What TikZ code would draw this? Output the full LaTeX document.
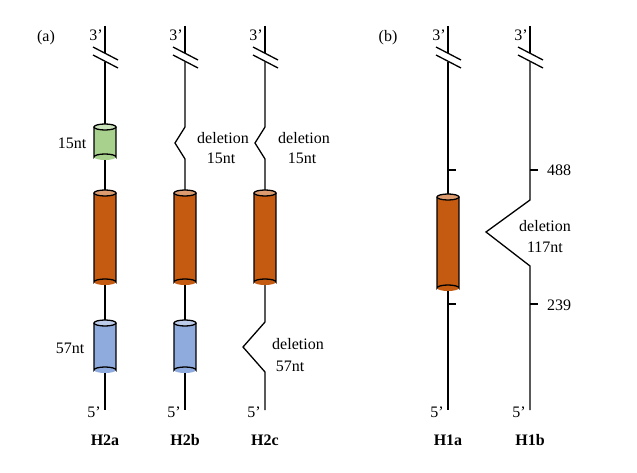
\documentclass[tikz,border=0pt]{standalone}
\usepackage{fontspec}
\setmainfont{Liberation Serif}
\definecolor{org}{RGB}{197,90,17}
\definecolor{grn}{RGB}{169,209,142}
\definecolor{blu}{RGB}{143,170,220}
\tikzset{ln/.style={line width=1.3pt,black},
 lab/.style={font=\fontsize{16}{18}\selectfont,inner sep=0pt},
 bl/.style={font=\bfseries\fontsize{16}{18}\selectfont,inner sep=0pt}}
\newcommand{\cyl}[5]{% x, ytop, ybot, color, name
 \fill[#4] (#1-11,#2) rectangle (#1+11,#3);
 \fill[#4] (#1,#3) ellipse (11 and 3);
 \draw[ln] (#1-11,#2) -- (#1-11,#3) arc (180:360:11 and 3) -- (#1+11,#2);
 \draw[ln,fill=#4!60!white] (#1,#2) ellipse (11 and 3);
 \coordinate (#5t) at (#1,#2-3); \coordinate (#5b) at (#1,#3+3);}
\newcommand{\brk}[2]{% x, name
 \coordinate (#2top) at (#1,26); \coordinate (#2m1) at (#1,53); \coordinate (#2m2) at (#1,62);
 \draw[ln] (#2top) -- (#2m1);
 \draw[ln] (#1-12,47) -- (#1+13,60);
 \draw[ln] (#1-12,55) -- (#1+13,68);
 \node[lab,anchor=east] at (#1-2,35) {3'};}
\begin{document}
\begin{tikzpicture}[x=1pt,y=-1pt]
\useasboundingbox (0,0) rectangle (637,473);
\node[lab] (a) at (46,38) {(a)};
\node[lab] (b) at (388,38) {(b)};
% H2a
\brk{105}{A}
\cyl{105}{127}{157}{grn}{Ag}
\cyl{105}{193}{282}{org}{Ao}
\cyl{105}{323}{370}{blu}{Ab}
\coordinate (Abot) at (105,410);
\draw[ln] (Am2) -- (Agt); \draw[ln] (Agb)--(Aot); \draw[ln] (Aob)--(Abt); \draw[ln] (Abb)--(Abot);
\node[lab] at (72,143) {15nt};
\node[lab] at (70,348) {57nt};
\node[lab,anchor=east] at (101,412) {5'};
\node[bl] at (105,440) {H2a};
% H2b
\brk{185}{B}
\cyl{185}{193}{282}{org}{Bo}
\cyl{185}{323}{370}{blu}{Bb}
\coordinate (Bbot) at (185,410);
\draw[ln] (Bm2) -- (185,127) -- (175,143) -- (185,159) -- (Bot);
\draw[ln] (Bob)--(Bbt); \draw[ln] (Bbb)--(Bbot);
\node[lab] at (223,138) {deletion};
\node[lab] at (221,158) {15nt};
\node[lab,anchor=east] at (181,412) {5'};
\node[bl] at (185,440) {H2b};
% H2c
\brk{265}{C}
\cyl{265}{193}{282}{org}{Co}
\coordinate (Cbot) at (265,410);
\draw[ln] (Cm2) -- (265,127) -- (255,143) -- (265,159) -- (Cot);
\draw[ln] (Cob) -- (265,322) -- (243,347) -- (265,372) -- (Cbot);
\node[lab] at (304,138) {deletion};
\node[lab] at (302,158) {15nt};
\node[lab] at (298,344) {deletion};
\node[lab] at (290,366) {57nt};
\node[lab,anchor=east] at (261,412) {5'};
\node[bl] at (265,440) {H2c};
% H1a
\brk{448}{D}
\cyl{448}{197}{288}{org}{Do}
\coordinate (Dbot) at (448,410);
\draw[ln] (Dm2) -- (Dot); \draw[ln] (Dob) -- (Dbot);
\draw[ln] (448,170) -- (456,170); \draw[ln] (448,304) -- (456,304);
\node[lab,anchor=east] at (444,412) {5'};
\node[bl] at (448,440) {H1a};
% H1b
\brk{530}{E}
\coordinate (Ebot) at (530,410);
\draw[ln] (Em2) -- (530,200) -- (486,232) -- (530,266) -- (Ebot);
\draw[ln] (530,170) -- (538,170); \draw[ln] (530,304) -- (538,304);
\node[lab,anchor=west] at (547,170) {488};
\node[lab,anchor=west] at (547,305) {239};
\node[lab] at (545,226) {deletion};
\node[lab] at (545,247) {117nt};
\node[lab,anchor=east] at (526,412) {5'};
\node[bl] at (530,440) {H1b};
\end{tikzpicture}
\end{document}
